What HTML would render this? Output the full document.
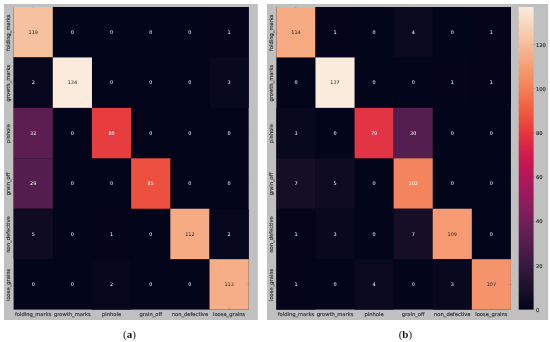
<!DOCTYPE html>
<html><head><meta charset="utf-8"><title>Confusion matrices</title>
<style>html,body{margin:0;padding:0;background:#fff}svg{display:block}text{font-family:"DejaVu Sans","Liberation Sans",sans-serif}text.cap{font-family:"Liberation Serif",serif}</style>
</head><body>
<svg width="550" height="342" viewBox="0 0 550 342">
<rect width="550" height="342" fill="#ffffff"/>
<defs><linearGradient id="cb" x1="0" y1="0" x2="0" y2="1"><stop offset="0.0000" stop-color="#faebdd"/><stop offset="0.0250" stop-color="#f9e2d0"/><stop offset="0.0500" stop-color="#f8d9c3"/><stop offset="0.0750" stop-color="#f7cfb3"/><stop offset="0.1000" stop-color="#f7c6a6"/><stop offset="0.1250" stop-color="#f6bc99"/><stop offset="0.1500" stop-color="#f6b18b"/><stop offset="0.1750" stop-color="#f6a880"/><stop offset="0.2000" stop-color="#f69c73"/><stop offset="0.2250" stop-color="#f59269"/><stop offset="0.2500" stop-color="#f58860"/><stop offset="0.2750" stop-color="#f47c55"/><stop offset="0.3000" stop-color="#f3714d"/><stop offset="0.3250" stop-color="#f16445"/><stop offset="0.3500" stop-color="#ef5840"/><stop offset="0.3750" stop-color="#ec4c3e"/><stop offset="0.4000" stop-color="#e83f3f"/><stop offset="0.4250" stop-color="#e23442"/><stop offset="0.4500" stop-color="#db2946"/><stop offset="0.4750" stop-color="#d3214b"/><stop offset="0.5000" stop-color="#cb1b4f"/><stop offset="0.5250" stop-color="#c11754"/><stop offset="0.5500" stop-color="#b71657"/><stop offset="0.5750" stop-color="#ab185a"/><stop offset="0.6000" stop-color="#a11a5b"/><stop offset="0.6250" stop-color="#971c5b"/><stop offset="0.6500" stop-color="#8b1d5b"/><stop offset="0.6750" stop-color="#811e5a"/><stop offset="0.7000" stop-color="#751f58"/><stop offset="0.7250" stop-color="#6b1f56"/><stop offset="0.7500" stop-color="#611f53"/><stop offset="0.7750" stop-color="#561e4f"/><stop offset="0.8000" stop-color="#4c1d4b"/><stop offset="0.8250" stop-color="#421b45"/><stop offset="0.8500" stop-color="#381a40"/><stop offset="0.8750" stop-color="#30173a"/><stop offset="0.9000" stop-color="#251433"/><stop offset="0.9250" stop-color="#1d112c"/><stop offset="0.9500" stop-color="#130d25"/><stop offset="0.9750" stop-color="#0a091f"/><stop offset="1.0000" stop-color="#03051a"/></linearGradient></defs>
<rect x="4" y="4" width="253.8" height="316" fill="#c0c0c0"/>
<rect x="13.60" y="7.00" width="235.10" height="302.60" fill="#03051a"/>
<rect x="13.60" y="7.00" width="39.18" height="50.43" fill="#f6c19f"/>
<rect x="209.52" y="7.00" width="39.18" height="50.43" fill="#04051a"/>
<rect x="13.60" y="57.43" width="39.18" height="50.43" fill="#06071c"/>
<rect x="52.78" y="57.43" width="39.18" height="50.43" fill="#faebdd"/>
<rect x="209.52" y="57.43" width="39.18" height="50.43" fill="#08081e"/>
<rect x="13.60" y="107.87" width="39.18" height="50.43" fill="#5c1e51"/>
<rect x="91.97" y="107.87" width="39.18" height="50.43" fill="#e73d3f"/>
<rect x="13.60" y="158.30" width="39.18" height="50.43" fill="#531e4d"/>
<rect x="131.15" y="158.30" width="39.18" height="50.43" fill="#ed503e"/>
<rect x="13.60" y="208.73" width="39.18" height="50.43" fill="#0e0b22"/>
<rect x="91.97" y="208.73" width="39.18" height="50.43" fill="#04051a"/>
<rect x="170.33" y="208.73" width="39.18" height="50.43" fill="#f6ab83"/>
<rect x="209.52" y="208.73" width="39.18" height="50.43" fill="#06071c"/>
<rect x="91.97" y="259.17" width="39.18" height="50.43" fill="#06071c"/>
<rect x="209.52" y="259.17" width="39.18" height="50.43" fill="#f6ae87"/>
<text x="33.19" y="33.88" font-size="4.9" text-anchor="middle" fill="#262626">119</text>
<text x="72.37" y="33.88" font-size="4.9" text-anchor="middle" fill="#ffffff">0</text>
<text x="111.56" y="33.88" font-size="4.9" text-anchor="middle" fill="#ffffff">0</text>
<text x="150.74" y="33.88" font-size="4.9" text-anchor="middle" fill="#ffffff">0</text>
<text x="189.92" y="33.88" font-size="4.9" text-anchor="middle" fill="#ffffff">0</text>
<text x="229.11" y="33.88" font-size="4.9" text-anchor="middle" fill="#ffffff">1</text>
<text x="33.19" y="84.31" font-size="4.9" text-anchor="middle" fill="#ffffff">2</text>
<text x="72.37" y="84.31" font-size="4.9" text-anchor="middle" fill="#262626">134</text>
<text x="111.56" y="84.31" font-size="4.9" text-anchor="middle" fill="#ffffff">0</text>
<text x="150.74" y="84.31" font-size="4.9" text-anchor="middle" fill="#ffffff">0</text>
<text x="189.92" y="84.31" font-size="4.9" text-anchor="middle" fill="#ffffff">0</text>
<text x="229.11" y="84.31" font-size="4.9" text-anchor="middle" fill="#ffffff">3</text>
<text x="33.19" y="134.75" font-size="4.9" text-anchor="middle" fill="#ffffff">32</text>
<text x="72.37" y="134.75" font-size="4.9" text-anchor="middle" fill="#ffffff">0</text>
<text x="111.56" y="134.75" font-size="4.9" text-anchor="middle" fill="#ffffff">80</text>
<text x="150.74" y="134.75" font-size="4.9" text-anchor="middle" fill="#ffffff">0</text>
<text x="189.92" y="134.75" font-size="4.9" text-anchor="middle" fill="#ffffff">0</text>
<text x="229.11" y="134.75" font-size="4.9" text-anchor="middle" fill="#ffffff">0</text>
<text x="33.19" y="185.18" font-size="4.9" text-anchor="middle" fill="#ffffff">29</text>
<text x="72.37" y="185.18" font-size="4.9" text-anchor="middle" fill="#ffffff">0</text>
<text x="111.56" y="185.18" font-size="4.9" text-anchor="middle" fill="#ffffff">0</text>
<text x="150.74" y="185.18" font-size="4.9" text-anchor="middle" fill="#ffffff">85</text>
<text x="189.92" y="185.18" font-size="4.9" text-anchor="middle" fill="#ffffff">0</text>
<text x="229.11" y="185.18" font-size="4.9" text-anchor="middle" fill="#ffffff">0</text>
<text x="33.19" y="235.61" font-size="4.9" text-anchor="middle" fill="#ffffff">5</text>
<text x="72.37" y="235.61" font-size="4.9" text-anchor="middle" fill="#ffffff">0</text>
<text x="111.56" y="235.61" font-size="4.9" text-anchor="middle" fill="#ffffff">1</text>
<text x="150.74" y="235.61" font-size="4.9" text-anchor="middle" fill="#ffffff">0</text>
<text x="189.92" y="235.61" font-size="4.9" text-anchor="middle" fill="#262626">112</text>
<text x="229.11" y="235.61" font-size="4.9" text-anchor="middle" fill="#ffffff">2</text>
<text x="33.19" y="286.05" font-size="4.9" text-anchor="middle" fill="#ffffff">0</text>
<text x="72.37" y="286.05" font-size="4.9" text-anchor="middle" fill="#ffffff">0</text>
<text x="111.56" y="286.05" font-size="4.9" text-anchor="middle" fill="#ffffff">2</text>
<text x="150.74" y="286.05" font-size="4.9" text-anchor="middle" fill="#ffffff">0</text>
<text x="189.92" y="286.05" font-size="4.9" text-anchor="middle" fill="#ffffff">0</text>
<text x="229.11" y="286.05" font-size="4.9" text-anchor="middle" fill="#262626">113</text>
<text x="33.19" y="315.90" font-size="5.2" text-anchor="middle" fill="#262626" stroke="#262626" stroke-width="0.12">folding_marks</text>
<rect x="32.99" y="308.40" width="0.4" height="1.2" fill="#262626" opacity="0.6"/>
<text transform="translate(9.90,32.72) rotate(-90)" font-size="5.2" text-anchor="middle" fill="#262626" stroke="#262626" stroke-width="0.12">folding_marks</text>
<rect x="13.60" y="32.02" width="1.2" height="0.4" fill="#262626" opacity="0.6"/>
<rect x="247.50" y="32.02" width="1.2" height="0.4" fill="#262626" opacity="0.6"/>
<rect x="32.99" y="7.00" width="0.4" height="1.2" fill="#262626" opacity="0.6"/>
<text x="72.37" y="315.90" font-size="5.2" text-anchor="middle" fill="#262626" stroke="#262626" stroke-width="0.12">growth_marks</text>
<rect x="72.17" y="308.40" width="0.4" height="1.2" fill="#262626" opacity="0.6"/>
<text transform="translate(9.90,83.15) rotate(-90)" font-size="5.2" text-anchor="middle" fill="#262626" stroke="#262626" stroke-width="0.12">growth_marks</text>
<rect x="13.60" y="82.45" width="1.2" height="0.4" fill="#262626" opacity="0.6"/>
<rect x="247.50" y="82.45" width="1.2" height="0.4" fill="#262626" opacity="0.6"/>
<rect x="72.17" y="7.00" width="0.4" height="1.2" fill="#262626" opacity="0.6"/>
<text x="111.56" y="315.90" font-size="5.2" text-anchor="middle" fill="#262626" stroke="#262626" stroke-width="0.12">pinhole</text>
<rect x="111.36" y="308.40" width="0.4" height="1.2" fill="#262626" opacity="0.6"/>
<text transform="translate(9.90,133.58) rotate(-90)" font-size="5.2" text-anchor="middle" fill="#262626" stroke="#262626" stroke-width="0.12">pinhole</text>
<rect x="13.60" y="132.88" width="1.2" height="0.4" fill="#262626" opacity="0.6"/>
<rect x="247.50" y="132.88" width="1.2" height="0.4" fill="#262626" opacity="0.6"/>
<rect x="111.36" y="7.00" width="0.4" height="1.2" fill="#262626" opacity="0.6"/>
<text x="150.74" y="315.90" font-size="5.2" text-anchor="middle" fill="#262626" stroke="#262626" stroke-width="0.12">grain_off</text>
<rect x="150.54" y="308.40" width="0.4" height="1.2" fill="#262626" opacity="0.6"/>
<text transform="translate(9.90,184.02) rotate(-90)" font-size="5.2" text-anchor="middle" fill="#262626" stroke="#262626" stroke-width="0.12">grain_off</text>
<rect x="13.60" y="183.32" width="1.2" height="0.4" fill="#262626" opacity="0.6"/>
<rect x="247.50" y="183.32" width="1.2" height="0.4" fill="#262626" opacity="0.6"/>
<rect x="150.54" y="7.00" width="0.4" height="1.2" fill="#262626" opacity="0.6"/>
<text x="189.92" y="315.90" font-size="5.2" text-anchor="middle" fill="#262626" stroke="#262626" stroke-width="0.12">non_defective</text>
<rect x="189.72" y="308.40" width="0.4" height="1.2" fill="#262626" opacity="0.6"/>
<text transform="translate(9.90,234.45) rotate(-90)" font-size="5.2" text-anchor="middle" fill="#262626" stroke="#262626" stroke-width="0.12">non_defective</text>
<rect x="13.60" y="233.75" width="1.2" height="0.4" fill="#262626" opacity="0.6"/>
<rect x="247.50" y="233.75" width="1.2" height="0.4" fill="#262626" opacity="0.6"/>
<rect x="189.72" y="7.00" width="0.4" height="1.2" fill="#262626" opacity="0.6"/>
<text x="229.11" y="315.90" font-size="5.2" text-anchor="middle" fill="#262626" stroke="#262626" stroke-width="0.12">loose_grains</text>
<rect x="228.91" y="308.40" width="0.4" height="1.2" fill="#262626" opacity="0.6"/>
<text transform="translate(9.90,284.88) rotate(-90)" font-size="5.2" text-anchor="middle" fill="#262626" stroke="#262626" stroke-width="0.12">loose_grains</text>
<rect x="13.60" y="284.18" width="1.2" height="0.4" fill="#262626" opacity="0.6"/>
<rect x="247.50" y="284.18" width="1.2" height="0.4" fill="#262626" opacity="0.6"/>
<rect x="228.91" y="7.00" width="0.4" height="1.2" fill="#262626" opacity="0.6"/>
<rect x="267" y="4" width="281.2" height="316" fill="#c0c0c0"/>
<rect x="276.40" y="7.00" width="234.50" height="302.60" fill="#03051a"/>
<rect x="276.40" y="7.00" width="39.08" height="50.43" fill="#f6ab83"/>
<rect x="315.48" y="7.00" width="39.08" height="50.43" fill="#04051a"/>
<rect x="393.65" y="7.00" width="39.08" height="50.43" fill="#0b0920"/>
<rect x="471.82" y="7.00" width="39.08" height="50.43" fill="#04051a"/>
<rect x="315.48" y="57.43" width="39.08" height="50.43" fill="#faebdd"/>
<rect x="432.73" y="57.43" width="39.08" height="50.43" fill="#04051a"/>
<rect x="471.82" y="57.43" width="39.08" height="50.43" fill="#04051a"/>
<rect x="276.40" y="107.87" width="39.08" height="50.43" fill="#08081e"/>
<rect x="354.57" y="107.87" width="39.08" height="50.43" fill="#e23442"/>
<rect x="393.65" y="107.87" width="39.08" height="50.43" fill="#541e4e"/>
<rect x="276.40" y="158.30" width="39.08" height="50.43" fill="#140e26"/>
<rect x="315.48" y="158.30" width="39.08" height="50.43" fill="#0e0b22"/>
<rect x="393.65" y="158.30" width="39.08" height="50.43" fill="#f4845d"/>
<rect x="276.40" y="208.73" width="39.08" height="50.43" fill="#04051a"/>
<rect x="315.48" y="208.73" width="39.08" height="50.43" fill="#08081e"/>
<rect x="393.65" y="208.73" width="39.08" height="50.43" fill="#140e26"/>
<rect x="432.73" y="208.73" width="39.08" height="50.43" fill="#f69b71"/>
<rect x="276.40" y="259.17" width="39.08" height="50.43" fill="#04051a"/>
<rect x="354.57" y="259.17" width="39.08" height="50.43" fill="#0b0920"/>
<rect x="432.73" y="259.17" width="39.08" height="50.43" fill="#08081e"/>
<rect x="471.82" y="259.17" width="39.08" height="50.43" fill="#f5946b"/>
<text x="295.94" y="33.88" font-size="4.9" text-anchor="middle" fill="#262626">114</text>
<text x="335.02" y="33.88" font-size="4.9" text-anchor="middle" fill="#ffffff">1</text>
<text x="374.11" y="33.88" font-size="4.9" text-anchor="middle" fill="#ffffff">0</text>
<text x="413.19" y="33.88" font-size="4.9" text-anchor="middle" fill="#ffffff">4</text>
<text x="452.27" y="33.88" font-size="4.9" text-anchor="middle" fill="#ffffff">0</text>
<text x="491.36" y="33.88" font-size="4.9" text-anchor="middle" fill="#ffffff">1</text>
<text x="295.94" y="84.31" font-size="4.9" text-anchor="middle" fill="#ffffff">0</text>
<text x="335.02" y="84.31" font-size="4.9" text-anchor="middle" fill="#262626">137</text>
<text x="374.11" y="84.31" font-size="4.9" text-anchor="middle" fill="#ffffff">0</text>
<text x="413.19" y="84.31" font-size="4.9" text-anchor="middle" fill="#ffffff">0</text>
<text x="452.27" y="84.31" font-size="4.9" text-anchor="middle" fill="#ffffff">1</text>
<text x="491.36" y="84.31" font-size="4.9" text-anchor="middle" fill="#ffffff">1</text>
<text x="295.94" y="134.75" font-size="4.9" text-anchor="middle" fill="#ffffff">3</text>
<text x="335.02" y="134.75" font-size="4.9" text-anchor="middle" fill="#ffffff">0</text>
<text x="374.11" y="134.75" font-size="4.9" text-anchor="middle" fill="#ffffff">79</text>
<text x="413.19" y="134.75" font-size="4.9" text-anchor="middle" fill="#ffffff">30</text>
<text x="452.27" y="134.75" font-size="4.9" text-anchor="middle" fill="#ffffff">0</text>
<text x="491.36" y="134.75" font-size="4.9" text-anchor="middle" fill="#ffffff">0</text>
<text x="295.94" y="185.18" font-size="4.9" text-anchor="middle" fill="#ffffff">7</text>
<text x="335.02" y="185.18" font-size="4.9" text-anchor="middle" fill="#ffffff">5</text>
<text x="374.11" y="185.18" font-size="4.9" text-anchor="middle" fill="#ffffff">0</text>
<text x="413.19" y="185.18" font-size="4.9" text-anchor="middle" fill="#ffffff">102</text>
<text x="452.27" y="185.18" font-size="4.9" text-anchor="middle" fill="#ffffff">0</text>
<text x="491.36" y="185.18" font-size="4.9" text-anchor="middle" fill="#ffffff">0</text>
<text x="295.94" y="235.61" font-size="4.9" text-anchor="middle" fill="#ffffff">1</text>
<text x="335.02" y="235.61" font-size="4.9" text-anchor="middle" fill="#ffffff">3</text>
<text x="374.11" y="235.61" font-size="4.9" text-anchor="middle" fill="#ffffff">0</text>
<text x="413.19" y="235.61" font-size="4.9" text-anchor="middle" fill="#ffffff">7</text>
<text x="452.27" y="235.61" font-size="4.9" text-anchor="middle" fill="#262626">109</text>
<text x="491.36" y="235.61" font-size="4.9" text-anchor="middle" fill="#ffffff">0</text>
<text x="295.94" y="286.05" font-size="4.9" text-anchor="middle" fill="#ffffff">1</text>
<text x="335.02" y="286.05" font-size="4.9" text-anchor="middle" fill="#ffffff">0</text>
<text x="374.11" y="286.05" font-size="4.9" text-anchor="middle" fill="#ffffff">4</text>
<text x="413.19" y="286.05" font-size="4.9" text-anchor="middle" fill="#ffffff">0</text>
<text x="452.27" y="286.05" font-size="4.9" text-anchor="middle" fill="#ffffff">3</text>
<text x="491.36" y="286.05" font-size="4.9" text-anchor="middle" fill="#262626">107</text>
<text x="295.94" y="315.90" font-size="5.2" text-anchor="middle" fill="#262626" stroke="#262626" stroke-width="0.12">folding_marks</text>
<rect x="295.74" y="308.40" width="0.4" height="1.2" fill="#262626" opacity="0.6"/>
<text transform="translate(273.20,32.72) rotate(-90)" font-size="5.2" text-anchor="middle" fill="#262626" stroke="#262626" stroke-width="0.12">folding_marks</text>
<rect x="276.40" y="32.02" width="1.2" height="0.4" fill="#262626" opacity="0.6"/>
<rect x="509.70" y="32.02" width="1.2" height="0.4" fill="#262626" opacity="0.6"/>
<rect x="295.74" y="7.00" width="0.4" height="1.2" fill="#262626" opacity="0.6"/>
<text x="335.02" y="315.90" font-size="5.2" text-anchor="middle" fill="#262626" stroke="#262626" stroke-width="0.12">growth_marks</text>
<rect x="334.82" y="308.40" width="0.4" height="1.2" fill="#262626" opacity="0.6"/>
<text transform="translate(273.20,83.15) rotate(-90)" font-size="5.2" text-anchor="middle" fill="#262626" stroke="#262626" stroke-width="0.12">growth_marks</text>
<rect x="276.40" y="82.45" width="1.2" height="0.4" fill="#262626" opacity="0.6"/>
<rect x="509.70" y="82.45" width="1.2" height="0.4" fill="#262626" opacity="0.6"/>
<rect x="334.82" y="7.00" width="0.4" height="1.2" fill="#262626" opacity="0.6"/>
<text x="374.11" y="315.90" font-size="5.2" text-anchor="middle" fill="#262626" stroke="#262626" stroke-width="0.12">pinhole</text>
<rect x="373.91" y="308.40" width="0.4" height="1.2" fill="#262626" opacity="0.6"/>
<text transform="translate(273.20,133.58) rotate(-90)" font-size="5.2" text-anchor="middle" fill="#262626" stroke="#262626" stroke-width="0.12">pinhole</text>
<rect x="276.40" y="132.88" width="1.2" height="0.4" fill="#262626" opacity="0.6"/>
<rect x="509.70" y="132.88" width="1.2" height="0.4" fill="#262626" opacity="0.6"/>
<rect x="373.91" y="7.00" width="0.4" height="1.2" fill="#262626" opacity="0.6"/>
<text x="413.19" y="315.90" font-size="5.2" text-anchor="middle" fill="#262626" stroke="#262626" stroke-width="0.12">grain_off</text>
<rect x="412.99" y="308.40" width="0.4" height="1.2" fill="#262626" opacity="0.6"/>
<text transform="translate(273.20,184.02) rotate(-90)" font-size="5.2" text-anchor="middle" fill="#262626" stroke="#262626" stroke-width="0.12">grain_off</text>
<rect x="276.40" y="183.32" width="1.2" height="0.4" fill="#262626" opacity="0.6"/>
<rect x="509.70" y="183.32" width="1.2" height="0.4" fill="#262626" opacity="0.6"/>
<rect x="412.99" y="7.00" width="0.4" height="1.2" fill="#262626" opacity="0.6"/>
<text x="452.27" y="315.90" font-size="5.2" text-anchor="middle" fill="#262626" stroke="#262626" stroke-width="0.12">non_defective</text>
<rect x="452.07" y="308.40" width="0.4" height="1.2" fill="#262626" opacity="0.6"/>
<text transform="translate(273.20,234.45) rotate(-90)" font-size="5.2" text-anchor="middle" fill="#262626" stroke="#262626" stroke-width="0.12">non_defective</text>
<rect x="276.40" y="233.75" width="1.2" height="0.4" fill="#262626" opacity="0.6"/>
<rect x="509.70" y="233.75" width="1.2" height="0.4" fill="#262626" opacity="0.6"/>
<rect x="452.07" y="7.00" width="0.4" height="1.2" fill="#262626" opacity="0.6"/>
<text x="491.36" y="315.90" font-size="5.2" text-anchor="middle" fill="#262626" stroke="#262626" stroke-width="0.12">loose_grains</text>
<rect x="491.16" y="308.40" width="0.4" height="1.2" fill="#262626" opacity="0.6"/>
<text transform="translate(273.20,284.88) rotate(-90)" font-size="5.2" text-anchor="middle" fill="#262626" stroke="#262626" stroke-width="0.12">loose_grains</text>
<rect x="276.40" y="284.18" width="1.2" height="0.4" fill="#262626" opacity="0.6"/>
<rect x="509.70" y="284.18" width="1.2" height="0.4" fill="#262626" opacity="0.6"/>
<rect x="491.16" y="7.00" width="0.4" height="1.2" fill="#262626" opacity="0.6"/>
<rect x="518.7" y="7.0" width="14.9" height="302.60" fill="url(#cb)"/>
<rect x="533.6" y="309.40" width="1.2" height="0.4" fill="#262626" opacity="0.6"/>
<text x="535.9" y="311.77" font-size="5.2" fill="#262626" stroke="#262626" stroke-width="0.12">0</text>
<rect x="533.6" y="265.22" width="1.2" height="0.4" fill="#262626" opacity="0.6"/>
<text x="535.9" y="267.60" font-size="5.2" fill="#262626" stroke="#262626" stroke-width="0.12">20</text>
<rect x="533.6" y="221.05" width="1.2" height="0.4" fill="#262626" opacity="0.6"/>
<text x="535.9" y="223.42" font-size="5.2" fill="#262626" stroke="#262626" stroke-width="0.12">40</text>
<rect x="533.6" y="176.87" width="1.2" height="0.4" fill="#262626" opacity="0.6"/>
<text x="535.9" y="179.25" font-size="5.2" fill="#262626" stroke="#262626" stroke-width="0.12">60</text>
<rect x="533.6" y="132.70" width="1.2" height="0.4" fill="#262626" opacity="0.6"/>
<text x="535.9" y="135.07" font-size="5.2" fill="#262626" stroke="#262626" stroke-width="0.12">80</text>
<rect x="533.6" y="88.52" width="1.2" height="0.4" fill="#262626" opacity="0.6"/>
<text x="535.9" y="90.90" font-size="5.2" fill="#262626" stroke="#262626" stroke-width="0.12">100</text>
<rect x="533.6" y="44.35" width="1.2" height="0.4" fill="#262626" opacity="0.6"/>
<text x="535.9" y="46.72" font-size="5.2" fill="#262626" stroke="#262626" stroke-width="0.12">120</text>
<text x="129.5" y="338" class="cap" font-size="11" fill="#111" text-anchor="middle">(<tspan font-weight="bold">a</tspan>)</text>
<text x="405.4" y="338" class="cap" font-size="11" fill="#111" text-anchor="middle">(<tspan font-weight="bold">b</tspan>)</text>
</svg>
</body></html>
